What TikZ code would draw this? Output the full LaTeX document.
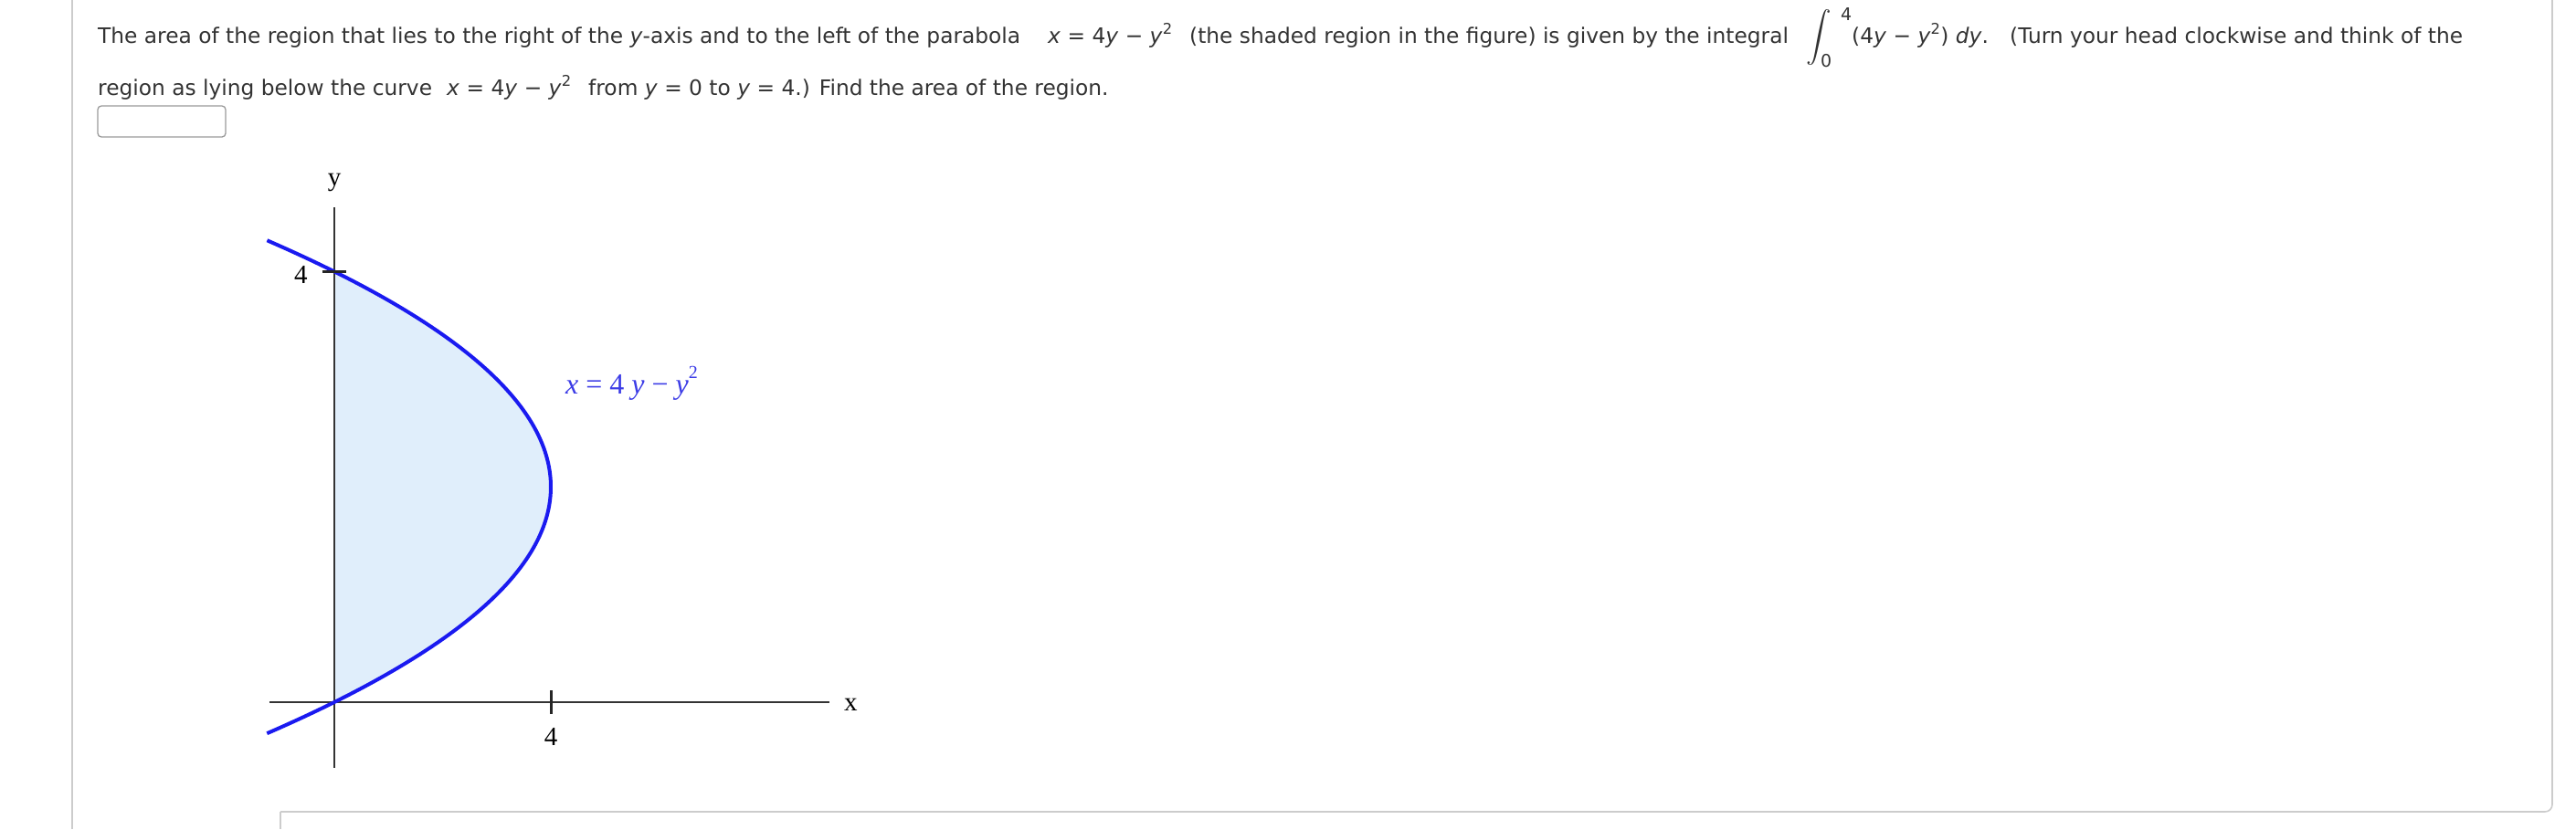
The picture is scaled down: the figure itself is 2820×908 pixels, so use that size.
\documentclass[tikz,border=0pt]{standalone}
\usepackage{fontspec}
\newfontfamily\verd{DejaVu Sans}
\newfontfamily\serf{Liberation Serif}

\definecolor{txtgray}{HTML}{333333}
\definecolor{framegray}{HTML}{CCCCCC}
\definecolor{boxgray}{HTML}{9A9A9A}
\definecolor{curveblue}{HTML}{1A1AF0}
\definecolor{shadeblue}{HTML}{E0EEFB}
\definecolor{labelblue}{HTML}{3C3CE6}

\tikzset{
	prose/.style={anchor=base west, inner sep=0pt, text=txtgray, font=\verd\fontsize{23.3}{28}\selectfont},
	limit/.style={anchor=base west, inner sep=0pt, text=txtgray, font=\verd\fontsize{19}{20}\selectfont},
	axis/.style={line width=1.8pt, draw=black!80},
	tick/.style={line width=3pt, draw=black!85},
	plotlabel/.style={inner sep=0pt, font=\serf\fontsize{29}{30}\selectfont},
	frame/.style={line width=1.6pt, draw=framegray},
}

\begin{document}
\begin{tikzpicture}[x=1pt,y=-1pt]
\useasboundingbox (0,0) rectangle (2820,908);

\draw[frame] (79,0) -- (79,908);
\draw[frame, rounded corners=8pt] (2794,0) |- (307,889);
\draw[frame] (307,889) -- (307,908);

% first line
\node[prose] (lineA) at (107,47) {The area of the region that lies to the right of the \textit{y}-axis and to the left of the parabola};
\node[prose] (eqA) at (1147,47) {\textit{x} = 4\textit{y} − \textit{y}\textsuperscript{2}};
\node[prose] (lineB) at (1302,47) {(the shaded region in the figure) is given by the integral};
\node[inner sep=0pt, text=txtgray] (intsign) at (1991,41) {\scalebox{2.75}{$\displaystyle\int$}};
\node[limit] (intup) at (2015,22) {4};
\node[limit] (intlow) at (1993,73) {0};
\node[prose] (intbody) at (2027,47) {(4\textit{y} − \textit{y}\textsuperscript{2}) \textit{dy}.};
\node[prose] (lineC) at (2200,47) {(Turn your head clockwise and think of the};

% second line
\node[prose] (lineD) at (107,104) {region as lying below the curve};
\node[prose] (eqB) at (489,104) {\textit{x} = 4\textit{y} − \textit{y}\textsuperscript{2}};
\node[prose] (lineE) at (644,104) {from \textit{y} = 0 to \textit{y} = 4.) Find the area of the region.};

\draw[line width=1.3pt, draw=boxgray, rounded corners=4pt] (107,116) rectangle (247,150);

\begin{scope}[shift={(366pt,-769pt)}, x=59.25pt, y=117.9pt]
\fill[shadeblue] (0,0) -- plot[domain=0:4, samples=80, variable=\t] ({4*\t-\t*\t},\t) -- cycle;

\draw[axis] (-1.2,0) -- (9.15,0);
\draw[axis] (0,-0.61) -- (0,4.6);

\draw[curveblue, line width=4pt] plot[domain=-0.29:4.29, samples=120, variable=\t] ({4*\t-\t*\t},\t);

\draw[tick] (4,0) ++(0pt,-13pt) -- ++(0pt,26pt);
\draw[tick] (0,4) ++(-13pt,0pt) -- ++(26pt,0pt);

\node[plotlabel] (ylab) at (0,4.83) {y};
\node[plotlabel] (xlab) at (9.54,-0.02) {x};
\node[plotlabel] (ytick) at (-0.62,3.97) {4};
\node[plotlabel] (xtick) at (4,-0.32) {4};

\node[anchor=west, inner sep=0pt, text=labelblue, font=\serf\fontsize{32}{32}\selectfont] (curvelab) at (4.27,2.96) {\textit{x} = 4 \textit{y} − \textit{y}\raisebox{0.55em}{\fontsize{20}{20}\selectfont 2}};
\end{scope}
\end{tikzpicture}
\end{document}
